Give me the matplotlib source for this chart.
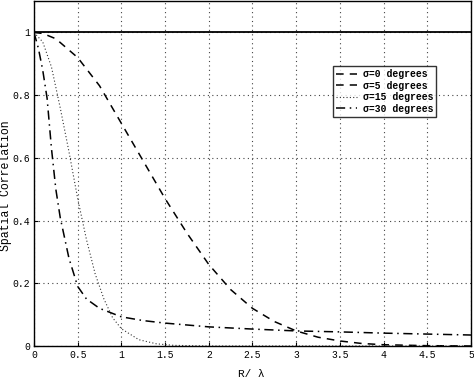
import matplotlib
matplotlib.use("Agg")
import matplotlib.pyplot as plt
from matplotlib.lines import Line2D

# data
x0 = [0, 5]
y0 = [1, 1]

x5 = [0, 0.1, 0.25, 0.5, 0.75, 1, 1.25, 1.5, 1.75, 2, 2.25, 2.5, 2.75, 3, 3.25, 3.5, 3.75, 4, 4.5, 5]
y5 = [1, 0.997, 0.98, 0.92, 0.83, 0.71, 0.59, 0.47, 0.36, 0.26, 0.18, 0.12, 0.078, 0.048, 0.028, 0.016, 0.008, 0.004, 0.001, 0.0]

x15 = [0, 0.1, 0.2, 0.3, 0.4, 0.5, 0.6, 0.7, 0.8, 0.9, 1.0, 1.2, 1.4, 1.6, 2, 2.5, 3, 4, 5]
y15 = [1, 0.97, 0.89, 0.76, 0.62, 0.47, 0.34, 0.23, 0.15, 0.09, 0.055, 0.02, 0.007, 0.002, 0, 0, 0, 0, 0]

x30 = [0, 0.05, 0.1, 0.15, 0.2, 0.25, 0.3, 0.4, 0.5, 0.6, 0.75, 1, 1.25, 1.5, 2, 2.5, 3, 3.5, 4, 4.5, 5]
y30 = [1, 0.95, 0.88, 0.79, 0.63, 0.5, 0.41, 0.28, 0.19, 0.15, 0.12, 0.093, 0.081, 0.073, 0.061, 0.054, 0.048, 0.045, 0.041, 0.038, 0.035]

labels = ["σ=0 degrees", "σ=5 degrees", "σ=15 degrees", "σ=30 degrees"]
xticks = [0, 0.5, 1, 1.5, 2, 2.5, 3, 3.5, 4, 4.5, 5]
xticklabels = ["0", "0.5", "1", "1.5", "2", "2.5", "3", "3.5", "4", "4.5", "5"]
yticks = [0, 0.2, 0.4, 0.6, 0.8, 1]
yticklabels = ["0", "0.2", "0.4", "0.6", "0.8", "1"]

plt.rcParams['font.family'] = ['Liberation Mono', 'DejaVu Sans']

fig = plt.figure(figsize=(4.74, 3.8), dpi=100)
ax = fig.add_axes([0.0717, 0.0895, 0.922, 0.9075])

ax.plot(x0, y0, color='black', lw=1.3, ls='-')
ax.plot(x5, y5, color='black', lw=1.1, dashes=(5, 4))
ax.plot(x15, y15, color='#333333', lw=0.8, dashes=(1, 2))
ax.plot(x30, y30, color='black', lw=1.1, dashes=(6, 3, 1, 3))

ax.set_xlim(0, 5)
ax.set_ylim(0, 1.1)
ax.set_xticks(xticks)
ax.set_xticklabels(xticklabels)
ax.set_yticks(yticks)
ax.set_yticklabels(yticklabels)
ax.tick_params(labelsize=7, direction='in', length=3, width=0.8, pad=3)
ax.grid(True, color='#444444', ls=(0, (1, 3)), lw=0.8)
for s in ax.spines.values():
    s.set_linewidth(1.0)

ax.set_xlabel("R/ λ", fontsize=8)
ax.xaxis.set_label_coords(0.497, -0.066)
ax.set_ylabel("Spatial Correlation", fontsize=8.3)
ax.yaxis.set_label_coords(-0.05, 0.465)

handles = [
    Line2D([], [], color='black', lw=1.1, dashes=(5, 4)),
    Line2D([], [], color='black', lw=1.1, dashes=(5, 4)),
    Line2D([], [], color='#333333', lw=0.8, dashes=(1, 2)),
    Line2D([], [], color='black', lw=1.1, dashes=(6, 3, 1, 3)),
]
leg = ax.legend(handles, labels, loc='lower left', bbox_to_anchor=(0.684, 0.665),
                fontsize=7, frameon=True, fancybox=False, edgecolor='black',
                handlelength=2.2, handletextpad=0.6, borderpad=0.3, labelspacing=0.15,
                borderaxespad=0)
leg.get_frame().set_linewidth(1.0)
for t in leg.get_texts():
    t.set_fontweight('bold')

fig.savefig("out.png", dpi=100)
